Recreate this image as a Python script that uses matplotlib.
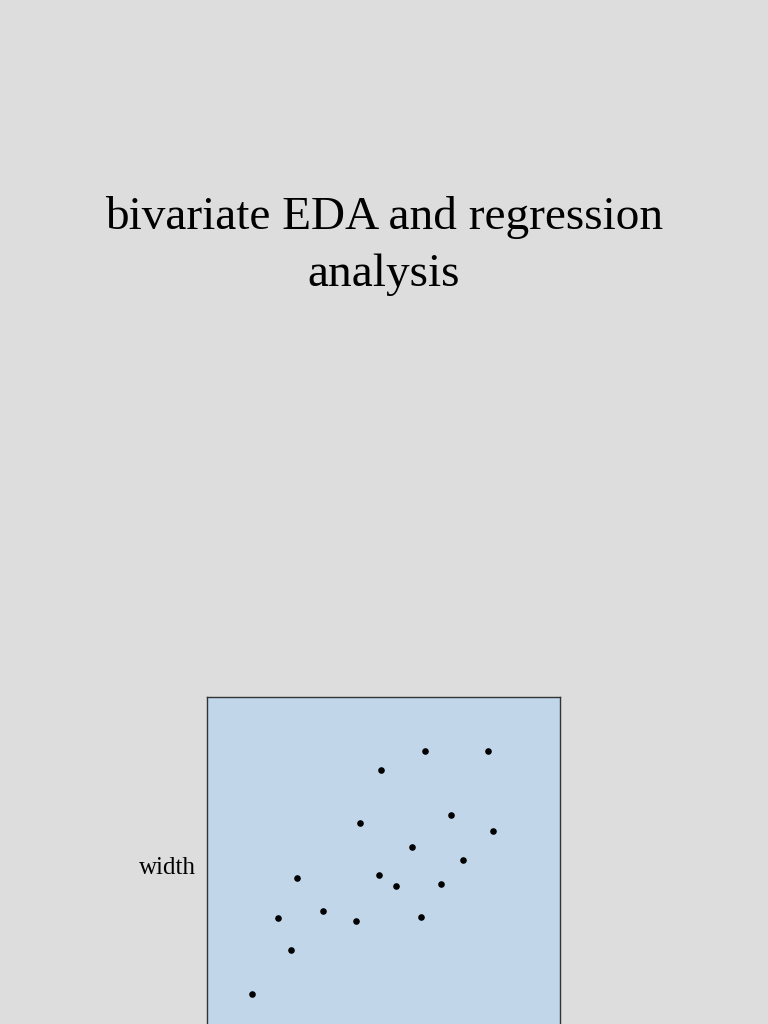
import matplotlib
matplotlib.use("Agg")
import matplotlib.pyplot as plt

# data (arbitrary units, axes 0..10)
length = [1.27, 2.01, 2.37, 2.55, 3.28, 4.23, 4.33, 4.86, 4.93, 5.35,
          5.81, 6.05, 6.18, 6.63, 6.90, 7.25, 7.97, 8.10]
width = [1.15, 3.43, 2.48, 4.62, 3.62, 3.34, 6.25, 4.70, 7.82, 4.37,
         5.53, 3.45, 8.39, 4.43, 6.49, 5.14, 8.39, 6.02]
title_text = "bivariate EDA and regression\nanalysis"
ylabel_text = "width"

plt.rcParams['font.family'] = ['Liberation Serif', 'DejaVu Serif']

fig = plt.figure(figsize=(7.68, 10.24), dpi=100)
fig.patch.set_facecolor('#dddddd')

fig.text(0.5, 1 - 246 / 1024, title_text, ha='center', va='center',
         fontsize=34, linespacing=1.44)

ax = fig.add_axes([207 / 768, 1 - 1033 / 1024, 353 / 768, 336 / 1024])
ax.set_facecolor('#c2d6ea')
ax.scatter(length, width, s=14, color='black', zorder=3)
ax.set_xlim(0, 10)
ax.set_ylim(0, 10)
ax.set_xticks([])
ax.set_yticks([])
for sp in ax.spines.values():
    sp.set_color('#333333')
    sp.set_linewidth(1.0)
ax.set_ylabel(ylabel_text, rotation=0, fontsize=18, ha='right', va='center')
ax.yaxis.set_label_coords(-0.03, 0.491)

fig.savefig('out.png', dpi=100, facecolor=fig.get_facecolor())
